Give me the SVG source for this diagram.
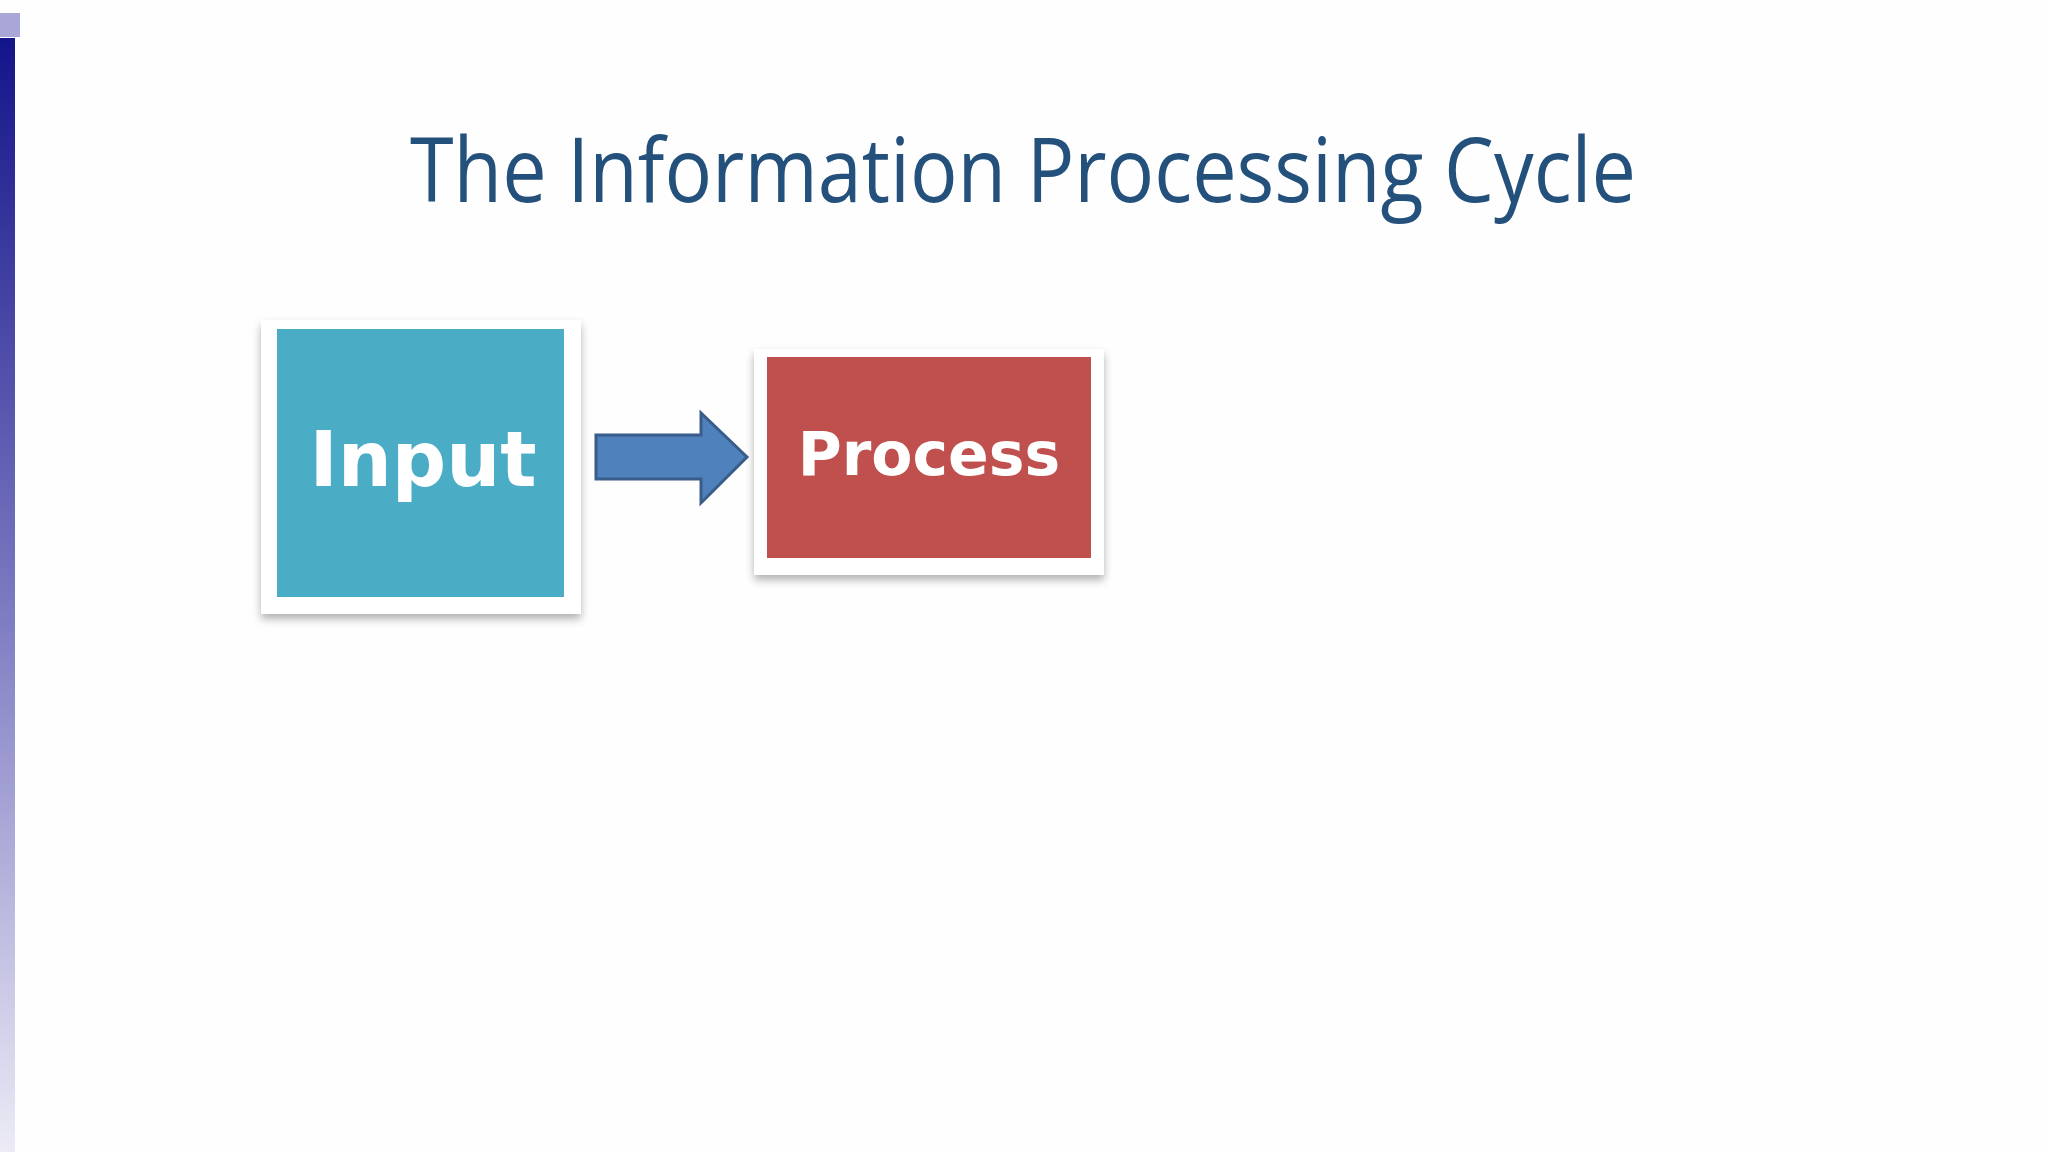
<svg xmlns="http://www.w3.org/2000/svg" width="2048" height="1152" viewBox="0 0 2048 1152">
<defs>
<linearGradient id="bar" x1="0" y1="0" x2="0" y2="1">
<stop offset="0" stop-color="#14148a"/><stop offset="0.5" stop-color="#7a78c0"/><stop offset="1" stop-color="#ecebf6"/>
</linearGradient>
<filter id="sh" x="-10%" y="-10%" width="120%" height="125%"><feDropShadow dx="0" dy="5" stdDeviation="4" flood-color="#000" flood-opacity="0.3"/></filter>
</defs>
<style>
.lbl{font-family:"DejaVu Sans","Liberation Sans",sans-serif;font-weight:bold;fill:#fff;text-anchor:middle}
.frame{fill:#fff;filter:url(#sh)}
</style>
<rect width="2048" height="1152" fill="#fefefe"/>
<rect x="0" y="38" width="15" height="1114" fill="url(#bar)"/>
<rect x="0" y="13" width="20" height="24" fill="#a9a7d8"/>
<text x="1023" y="202" font-family="'Open Sans','Noto Sans',sans-serif" font-size="90" fill="#24507c" text-anchor="middle" textLength="1226" lengthAdjust="spacingAndGlyphs">The Information Processing Cycle</text>
<g id="input">
<rect class="frame" x="261" y="320" width="320" height="294"/>
<rect x="277" y="329" width="287" height="268" fill="#4BACC6"/>
<text class="lbl" x="423" y="486" font-size="76">Input</text>
</g>
<g id="process">
<rect class="frame" x="754" y="349" width="350" height="226"/>
<rect x="767" y="357" width="324" height="201" fill="#C0504D"/>
<text class="lbl" x="929" y="475" font-size="60">Process</text>
</g>
<g id="connectors">
<path d="M596,435 H701 V413 L747,457 L701,503 V479 H596 Z" fill="#4F81BD" stroke="#385D8A" stroke-width="3"/>
</g>
</svg>
